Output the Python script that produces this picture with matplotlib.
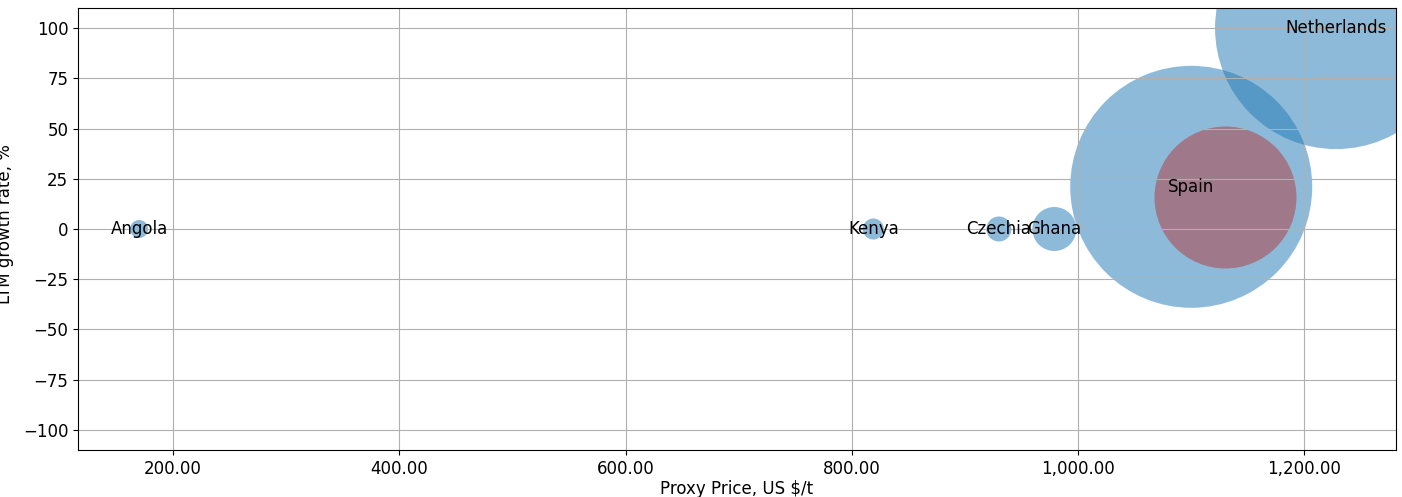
import matplotlib
matplotlib.use("Agg")
import matplotlib.pyplot as plt
from matplotlib.ticker import FuncFormatter, MultipleLocator

countries = ["Angola", "Kenya", "Czechia", "Ghana", "Spain", "Netherlands"]
proxy_price = [170, 819, 930, 979, 1100, 1228]
growth_rate = [0, 0, 0, 0, 21, 100]
bubble_size = [168, 229, 324, 1004, 30355, 30355]

highlight_price = [1130]
highlight_growth = [16]
highlight_size = [10450]

fig = plt.figure(figsize=(14.02, 4.97), dpi=100)
ax = fig.add_axes([78 / 1402, 47 / 497, 1318 / 1402, 442 / 497])

ax.scatter(proxy_price, growth_rate, s=bubble_size, color="#1f77b4", alpha=0.5,
           linewidths=0)
ax.scatter(highlight_price, highlight_growth, s=highlight_size, color="#b1393b",
           alpha=0.5, linewidths=0)

for name, x, y in zip(countries, proxy_price, growth_rate):
    ax.text(x, y, name, ha="center", va="center", fontsize=12)

ax.set_xlim(116, 1281)
ax.set_ylim(-110, 110)
ax.xaxis.set_major_locator(MultipleLocator(200))
ax.yaxis.set_major_locator(MultipleLocator(25))
ax.xaxis.set_major_formatter(FuncFormatter(lambda v, p: f"{v:,.2f}"))
ax.tick_params(labelsize=12)
ax.grid(True, color="#b0b0b0")

ax.set_xlabel("Proxy Price, US $/t", fontsize=12, labelpad=1.5)
ax.set_ylabel("LTM growth rate, %", fontsize=12)
ax.yaxis.set_label_coords((14 - 78) / 1318, (450 - 224) / 442)

fig.savefig("out.png", dpi=100)
